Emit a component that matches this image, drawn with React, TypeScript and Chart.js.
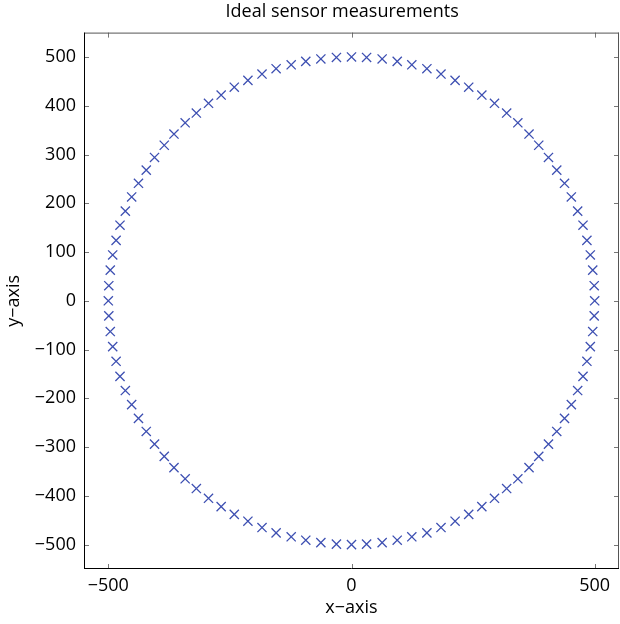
import Chart from 'chart.js/auto';
import { useEffect, useRef } from 'react';

const sensorX = [
    500, 499, 496, 491, 484, 476, 465, 452, 438, 422, 405, 385, 365, 342, 319, 294, 268, 241, 213, 184, 155, 124, 94, 63, 31,
    0, -31, -63, -94, -124, -155, -184, -213, -241, -268, -294, -319, -342, -365, -385, -405, -422, -438, -452, -465, -476, -484, -491, -496, -499,
    -500, -499, -496, -491, -484, -476, -465, -452, -438, -422, -405, -385, -365, -342, -319, -294, -268, -241, -213, -184, -155, -124, -94, -63, -31,
    0, 31, 63, 94, 124, 155, 184, 213, 241, 268, 294, 319, 342, 365, 385, 405, 422, 438, 452, 465, 476, 484, 491, 496, 499,
];
const sensorY = [
    0, 31, 63, 94, 124, 155, 184, 213, 241, 268, 294, 319, 342, 365, 385, 405, 422, 438, 452, 465, 476, 484, 491, 496, 499,
    500, 499, 496, 491, 484, 476, 465, 452, 438, 422, 405, 385, 365, 342, 319, 294, 268, 241, 213, 184, 155, 124, 94, 63, 31,
    0, -31, -63, -94, -124, -155, -184, -213, -241, -268, -294, -319, -342, -365, -385, -405, -422, -438, -452, -465, -476, -484, -491, -496, -499,
    -500, -499, -496, -491, -484, -476, -465, -452, -438, -422, -405, -385, -365, -342, -319, -294, -268, -241, -213, -184, -155, -124, -94, -63, -31,
];
const xTicks = [-500, 0, 500];
const yTicks = [-500, -400, -300, -200, -100, 0, 100, 200, 300, 400, 500];

const FONT = '"Open Sans", "Noto Sans", sans-serif';

const minus = (v: number | string) => String(v).replace('-', '\u2212');

// box around the plot plus inward tick marks on all four sides
const boxTicks = {
    id: 'boxTicks',
    afterDraw(chart: any) {
        const { ctx, chartArea: a, scales } = chart;
        const len = 5;
        ctx.save();
        ctx.lineWidth = 1;
        ctx.strokeStyle = '#777';
        ctx.beginPath();
        scales.x.ticks.forEach((t: any) => {
            const px = Math.round(scales.x.getPixelForValue(t.value)) + 0.5;
            ctx.moveTo(px, a.bottom); ctx.lineTo(px, a.bottom - len);
            ctx.moveTo(px, a.top); ctx.lineTo(px, a.top + len);
        });
        scales.y.ticks.forEach((t: any) => {
            const py = Math.round(scales.y.getPixelForValue(t.value)) + 0.5;
            ctx.moveTo(a.left, py); ctx.lineTo(a.left + len, py);
            ctx.moveTo(a.right, py); ctx.lineTo(a.right - len, py);
        });
        ctx.stroke();

        ctx.strokeStyle = '#555';
        ctx.beginPath();
        ctx.moveTo(a.left, a.top + 0.5); ctx.lineTo(a.right, a.top + 0.5);
        ctx.moveTo(a.right - 0.5, a.top); ctx.lineTo(a.right - 0.5, a.bottom);
        ctx.stroke();

        ctx.strokeStyle = '#000';
        ctx.beginPath();
        ctx.moveTo(a.left + 0.5, a.top); ctx.lineTo(a.left + 0.5, a.bottom);
        ctx.moveTo(a.left, a.bottom - 0.5); ctx.lineTo(a.right, a.bottom - 0.5);
        ctx.stroke();
        ctx.restore();
    },
};

const SensorChart = () => {
    const chartRef = useRef<HTMLCanvasElement | null>(null);

    useEffect(() => {
        if (!chartRef.current) return;
        const ctx = chartRef.current.getContext('2d');
        if (!ctx) return;

        const myChart = new Chart(ctx, {
            type: 'scatter',
            data: {
                datasets: [{
                    label: 'measurements',
                    data: sensorX.map((x, i) => ({ x, y: sensorY[i] })),
                    pointStyle: 'crossRot',
                    pointRadius: 6.5,
                    pointBorderWidth: 1.3,
                    borderColor: '#3e50b2',
                    backgroundColor: '#3e50b2',
                }],
            },
            options: {
                responsive: true,
                maintainAspectRatio: false,
                animation: false,
                events: [],
                layout: { autoPadding: false, padding: { left: 0, right: 1, top: 0, bottom: 0 } },
                scales: {
                    x: {
                        type: 'linear',
                        min: -550,
                        max: 550,
                        afterBuildTicks: (s: any) => { s.ticks = xTicks.map((value) => ({ value })); },
                        afterFit: (s: any) => {
                            s.height = 55;
                            s.paddingLeft = 0;
                            s.paddingRight = 0;
                        },
                        grid: { display: false, drawTicks: false },
                        border: { display: false },
                        ticks: {
                            padding: 6,
                            color: '#000',
                            font: { family: FONT, size: 18 },
                            callback: (v: any) => minus(v),
                        },
                        title: {
                            display: true,
                            text: 'x\u2212axis',
                            color: '#000',
                            font: { family: FONT, size: 18 },
                            padding: { top: 0, bottom: 5 },
                        },
                    },
                    y: {
                        type: 'linear',
                        min: -550,
                        max: 550,
                        afterBuildTicks: (s: any) => { s.ticks = yTicks.map((value) => ({ value })); },
                        afterFit: (s: any) => {
                            s.width = 84;
                            s.paddingTop = 0;
                            s.paddingBottom = 0;
                        },
                        grid: { display: false, drawTicks: false },
                        border: { display: false },
                        ticks: {
                            padding: 8,
                            color: '#000',
                            font: { family: FONT, size: 18 },
                            callback: (v: any) => minus(v),
                        },
                        title: {
                            display: true,
                            text: 'y\u2212axis',
                            color: '#000',
                            font: { family: FONT, size: 18 },
                            padding: { top: 3, bottom: 0 },
                        },
                    },
                },
                plugins: {
                    legend: { display: false },
                    tooltip: { enabled: false },
                    title: {
                        display: true,
                        fullSize: false,
                        text: 'Ideal sensor measurements\u00a0\u00a0\u00a0\u00a0',
                        color: '#000',
                        font: { family: FONT, size: 18, weight: 'normal' },
                        padding: { top: 1, bottom: 10 },
                    },
                },
            },
            plugins: [boxTicks],
        });

        return () => myChart.destroy();
    }, []);

    return (
        <div style={{ position: 'absolute', left: 0, top: 0, width: 620, height: 624, background: '#fff' }}>
            <canvas ref={chartRef} />
        </div>
    );
};

export default function App() {
    return <SensorChart />;
}
